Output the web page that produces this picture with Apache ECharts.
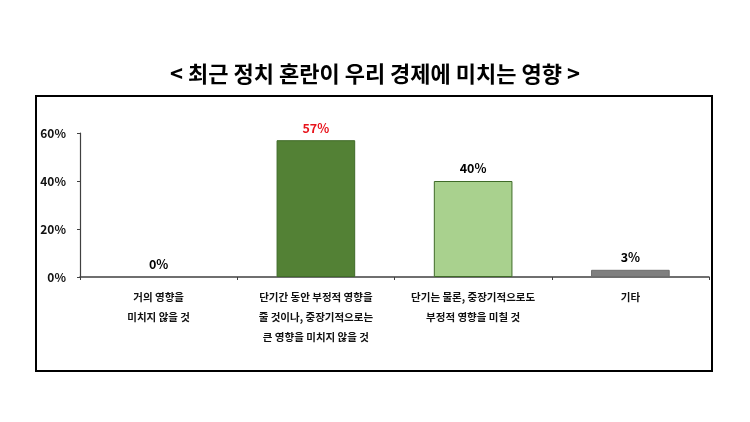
<!DOCTYPE html>
<html><head><meta charset="utf-8">
<script src="https://cdn.jsdelivr.net/npm/echarts@6/dist/echarts.min.js"></script>
<style>html,body{margin:0;padding:0;background:#fff}#c{width:750px;height:422px}</style>
</head><body><div id="c"></div>
<script>
const titleText = '< 최근 정치 혼란이 우리 경제에 미치는 영향 >';
const categories = ['거의 영향을\n미치지 않을 것', '단기간 동안 부정적 영향을\n줄 것이나, 중장기적으로는\n큰 영향을 미치지 않을 것', '단기는 물론, 중장기적으로도\n부정적 영향을 미칠 것', '기타'];
const values = [0, 57, 40, 3];
const barColors = ['#538135', '#538135', '#a9d18e', '#7f7f7f'];
const labelColors = ['#000000', '#e8141c', '#000000', '#000000'];
const yTicks = [0, 20, 40, 60];

const font = '"Noto Sans CJK KR", "Noto Sans", sans-serif';
const chart = echarts.init(document.getElementById('c'));
chart.setOption({
  animation: false,
  textStyle: { fontFamily: font },
  title: {
    text: titleText, left: 'center', top: 58,
    textStyle: { fontFamily: font, fontSize: 22, fontWeight: 'bold', color: '#000' }
  },
  graphic: [{
    type: 'rect', shape: { x: 36, y: 96, width: 676, height: 275 },
    style: { fill: 'none', stroke: '#000', lineWidth: 2 }, z: 0
  }],
  grid: { left: 80, right: 41, top: 133, bottom: 145, containLabel: false },
  xAxis: {
    type: 'category', data: categories,
    axisLine: { lineStyle: { color: '#404040', width: 1.5 } },
    axisTick: { show: true, length: 3, lineStyle: { color: '#404040' } },
    axisLabel: { color: '#111', fontSize: 10.5, fontWeight: 'bold', lineHeight: 20, margin: 10, interval: 0 }
  },
  yAxis: {
    type: 'value', min: 0, max: 60, interval: 20,
    axisLine: { show: true, lineStyle: { color: '#404040', width: 1.2 } },
    axisTick: { show: true, length: 3, lineStyle: { color: '#404040' } },
    splitLine: { show: false },
    axisLabel: { color: '#111', fontSize: 12, fontWeight: 'bold', margin: 14,
      formatter: v => yTicks.includes(v) ? v + '%' : '' }
  },
  series: [{
    type: 'bar', barWidth: '50%',
    data: values.map((v, i) => ({
      value: v,
      itemStyle: { color: barColors[i], borderColor: i === 3 ? '#6d6d6d' : '#3f6b28', borderWidth: v === 0 ? 0 : 1, opacity: v === 0 ? 0 : 1 },
      label: { color: labelColors[i] }
    })),
    label: { show: true, position: 'top', distance: 6, fontSize: 12.5, fontWeight: 'bold', formatter: '{c}%', opacity: 1 }
  }]
});
</script></body></html>
